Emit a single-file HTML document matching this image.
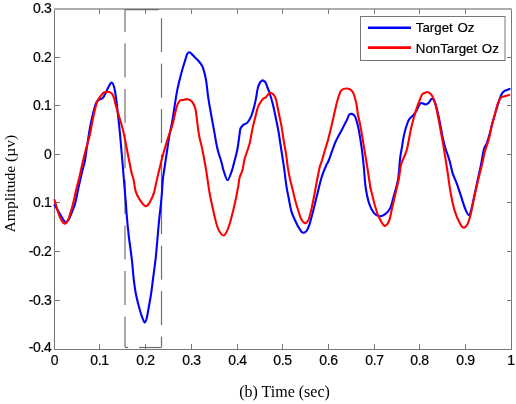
<!DOCTYPE html>
<html><head><meta charset="utf-8"><style>
html,body{margin:0;padding:0;background:#fff;width:516px;height:404px;overflow:hidden}
svg{display:block}
.t{font-family:"Liberation Sans",Arial,sans-serif;font-size:14px;fill:#000;letter-spacing:-0.4px;stroke:#000;stroke-width:0.2px}
.lg{font-size:13.3px;word-spacing:1px;letter-spacing:0}
.s{font-family:"Liberation Serif","Times New Roman",serif;font-size:16px;fill:#000}
</style></head><body>
<svg width="516" height="404" viewBox="0 0 516 404">
<rect width="516" height="404" fill="#fff"/>
<g stroke="#787878" stroke-width="1" fill="none" shape-rendering="crispEdges">
<path d="M54.5,9.5 V349.0 H511.5 V9.5"/>
</g>
<line x1="54.0" y1="9" x2="512.0" y2="9" stroke="#5a5a5a" stroke-width="1"/>
<g stroke="#787878" stroke-width="1" fill="none" shape-rendering="crispEdges">
<line x1="99.5" y1="349.0" x2="99.5" y2="344.0"/><line x1="99.5" y1="9.0" x2="99.5" y2="14.0"/><line x1="145.5" y1="349.0" x2="145.5" y2="344.0"/><line x1="145.5" y1="9.0" x2="145.5" y2="14.0"/><line x1="191.5" y1="349.0" x2="191.5" y2="344.0"/><line x1="191.5" y1="9.0" x2="191.5" y2="14.0"/><line x1="237.5" y1="349.0" x2="237.5" y2="344.0"/><line x1="237.5" y1="9.0" x2="237.5" y2="14.0"/><line x1="282.5" y1="349.0" x2="282.5" y2="344.0"/><line x1="282.5" y1="9.0" x2="282.5" y2="14.0"/><line x1="328.5" y1="349.0" x2="328.5" y2="344.0"/><line x1="328.5" y1="9.0" x2="328.5" y2="14.0"/><line x1="374.5" y1="349.0" x2="374.5" y2="344.0"/><line x1="374.5" y1="9.0" x2="374.5" y2="14.0"/><line x1="419.5" y1="349.0" x2="419.5" y2="344.0"/><line x1="419.5" y1="9.0" x2="419.5" y2="14.0"/><line x1="465.5" y1="349.0" x2="465.5" y2="344.0"/><line x1="465.5" y1="9.0" x2="465.5" y2="14.0"/><line x1="54.5" y1="57.5" x2="59.5" y2="57.5"/><line x1="511.5" y1="57.5" x2="506.5" y2="57.5"/><line x1="54.5" y1="105.5" x2="59.5" y2="105.5"/><line x1="511.5" y1="105.5" x2="506.5" y2="105.5"/><line x1="54.5" y1="154.5" x2="59.5" y2="154.5"/><line x1="511.5" y1="154.5" x2="506.5" y2="154.5"/><line x1="54.5" y1="202.5" x2="59.5" y2="202.5"/><line x1="511.5" y1="202.5" x2="506.5" y2="202.5"/><line x1="54.5" y1="251.5" x2="59.5" y2="251.5"/><line x1="511.5" y1="251.5" x2="506.5" y2="251.5"/><line x1="54.5" y1="300.5" x2="59.5" y2="300.5"/><line x1="511.5" y1="300.5" x2="506.5" y2="300.5"/>
</g>
<g stroke="#6e6e6e" stroke-width="1.2" fill="none">
<line x1="125.0" y1="9.5" x2="125.0" y2="32.0"/><line x1="125.0" y1="9.6" x2="158.8" y2="9.6"/><line x1="125.0" y1="43.5" x2="125.0" y2="77.5"/><line x1="125.0" y1="89.0" x2="125.0" y2="123.0"/><line x1="125.0" y1="134.5" x2="125.0" y2="168.5"/><line x1="125.0" y1="180.0" x2="125.0" y2="214.0"/><line x1="125.0" y1="225.5" x2="125.0" y2="259.5"/><line x1="125.0" y1="271.0" x2="125.0" y2="305.0"/><line x1="125.0" y1="316.5" x2="125.0" y2="347.0"/><line x1="125.0" y1="347.5" x2="128.2" y2="347.5"/><line x1="139.1" y1="347.5" x2="161.5" y2="347.5"/><line x1="161.5" y1="18.1" x2="161.5" y2="52.1"/><line x1="161.5" y1="63.6" x2="161.5" y2="97.6"/><line x1="161.5" y1="109.1" x2="161.5" y2="143.1"/><line x1="161.5" y1="154.6" x2="161.5" y2="188.6"/><line x1="161.5" y1="200.1" x2="161.5" y2="234.1"/><line x1="161.5" y1="245.6" x2="161.5" y2="279.6"/><line x1="161.5" y1="291.1" x2="161.5" y2="325.1"/><line x1="161.5" y1="336.6" x2="161.5" y2="347.0"/>
</g>
<g fill="none" stroke-width="2.1" stroke-linejoin="round" stroke-linecap="round">
<path stroke="#0000ff" d="M54.5,205.0 C55.1,205.9 56.8,208.4 58.0,210.5 C59.2,212.6 60.8,215.6 62.0,217.5 C63.2,219.4 64.3,221.9 65.5,222.2 C66.7,222.4 67.9,220.7 69.0,219.0 C70.1,217.3 71.0,214.5 72.0,212.0 C73.0,209.5 74.0,207.7 75.0,204.0 C76.0,200.3 77.2,193.8 78.0,190.0 C78.8,186.2 79.2,184.3 80.0,181.0 C80.8,177.7 81.7,173.3 82.5,170.0 C83.3,166.7 84.2,164.6 84.9,161.0 C85.6,157.4 85.9,153.8 86.7,148.6 C87.5,143.4 88.7,135.1 89.6,130.0 C90.5,124.9 91.0,122.2 92.0,118.0 C93.0,113.8 94.5,107.5 95.5,104.6 C96.5,101.7 96.7,101.6 97.9,100.5 C99.1,99.4 101.5,99.2 102.7,98.1 C103.9,97.0 104.1,95.9 105.1,94.1 C106.1,92.2 107.4,88.9 108.5,87.0 C109.6,85.1 110.5,82.4 111.5,82.5 C112.5,82.6 113.5,84.7 114.3,87.7 C115.1,90.7 115.8,96.0 116.4,100.5 C117.0,105.0 117.4,109.4 118.0,115.0 C118.6,120.6 119.2,125.7 120.0,134.0 C120.8,142.3 121.8,154.0 122.7,165.0 C123.6,176.0 124.9,191.7 125.6,200.0 C126.3,208.3 126.2,208.8 126.7,215.0 C127.2,221.2 128.0,229.5 128.9,237.0 C129.8,244.5 131.1,253.0 131.9,260.0 C132.7,267.0 133.0,273.2 133.7,279.0 C134.4,284.8 135.0,289.7 136.1,295.0 C137.2,300.3 139.0,307.2 140.1,311.0 C141.2,314.8 141.8,316.1 142.5,318.0 C143.2,319.9 143.8,322.3 144.5,322.5 C145.2,322.7 145.9,320.9 146.5,319.0 C147.1,317.1 147.4,315.0 148.1,311.0 C148.8,307.0 150.1,300.3 150.9,295.0 C151.7,289.7 152.2,285.2 153.0,279.0 C153.8,272.8 154.7,267.4 155.7,258.0 C156.7,248.6 158.0,232.0 158.9,222.3 C159.8,212.6 160.7,207.1 161.3,200.0 C162.0,192.9 162.4,184.7 162.8,180.0 C163.2,175.3 163.3,176.2 163.9,172.0 C164.5,167.8 165.6,160.5 166.5,154.7 C167.4,148.9 168.1,143.1 169.1,137.3 C170.1,131.5 171.2,127.8 172.5,120.0 C173.8,112.2 175.6,98.5 177.2,90.4 C178.8,82.3 180.4,76.8 181.8,71.5 C183.2,66.2 184.7,61.8 185.6,58.9 C186.5,56.0 186.6,55.1 187.2,54.0 C187.8,52.9 188.4,52.4 189.0,52.3 C189.6,52.2 190.3,52.6 191.0,53.2 C191.7,53.8 192.1,54.5 193.4,55.8 C194.7,57.1 197.0,59.1 198.6,61.0 C200.2,62.9 201.6,64.1 202.8,67.3 C204.0,70.5 205.1,75.0 206.0,79.9 C206.9,84.8 207.4,91.8 208.1,96.7 C208.8,101.6 209.5,105.4 210.2,109.3 C210.9,113.2 211.4,116.2 212.1,120.0 C212.8,123.8 213.4,127.2 214.3,131.9 C215.2,136.6 216.1,143.0 217.3,148.2 C218.5,153.4 220.7,159.4 221.7,163.0 C222.7,166.6 222.4,167.1 223.4,170.0 C224.4,172.9 226.2,180.2 227.6,180.2 C229.0,180.2 231.1,172.6 232.1,170.0 C233.1,167.4 232.7,167.9 233.6,164.5 C234.5,161.1 236.3,154.6 237.3,149.7 C238.3,144.8 239.0,138.3 239.5,134.8 C240.0,131.3 239.8,130.2 240.5,128.5 C241.2,126.8 242.6,125.5 243.7,124.6 C244.8,123.7 245.9,124.2 247.1,122.9 C248.3,121.6 249.9,119.2 251.0,116.7 C252.1,114.2 253.0,111.0 253.9,107.8 C254.8,104.6 255.6,100.6 256.2,97.4 C256.8,94.2 257.1,90.8 257.7,88.5 C258.2,86.2 258.9,84.8 259.5,83.5 C260.1,82.2 260.9,81.5 261.5,81.0 C262.1,80.5 262.4,80.2 263.1,80.5 C263.8,80.8 264.8,81.4 265.5,82.5 C266.2,83.6 266.6,85.3 267.3,87.0 C268.0,88.7 268.8,90.7 269.5,92.9 C270.2,95.1 271.1,97.6 271.8,100.3 C272.6,103.0 273.3,106.1 274.0,109.3 C274.7,112.5 275.4,116.0 276.2,119.7 C276.9,123.4 277.8,127.5 278.5,131.5 C279.2,135.6 279.5,138.1 280.4,144.0 C281.3,149.9 282.9,159.9 283.9,166.7 C284.9,173.5 285.4,179.6 286.2,184.6 C286.9,189.6 287.5,192.0 288.4,196.5 C289.3,201.0 290.1,207.1 291.5,211.6 C292.9,216.1 295.5,221.0 296.7,223.7 C297.9,226.3 297.9,226.1 298.7,227.5 C299.5,228.9 300.8,231.1 301.7,232.0 C302.6,232.9 303.0,232.9 303.9,232.7 C304.8,232.4 305.9,232.1 306.9,230.5 C307.9,228.9 308.8,226.5 309.9,223.1 C311.0,219.7 312.4,213.9 313.4,210.0 C314.4,206.1 315.1,203.0 315.9,199.6 C316.7,196.2 317.6,193.0 318.4,189.7 C319.2,186.4 320.1,182.7 320.9,179.8 C321.7,176.9 322.4,174.9 323.3,172.4 C324.2,169.9 325.5,167.1 326.4,165.0 C327.3,162.9 327.5,163.5 328.9,160.0 C330.3,156.5 333.1,147.8 334.7,143.8 C336.3,139.8 337.3,138.3 338.6,135.8 C339.9,133.3 341.2,131.1 342.3,129.0 C343.4,126.9 344.4,124.8 345.3,123.1 C346.2,121.4 346.9,120.0 347.5,118.6 C348.1,117.2 348.3,115.7 349.0,114.9 C349.7,114.1 351.0,113.8 351.9,113.9 C352.8,114.0 353.8,114.7 354.5,115.7 C355.2,116.7 355.7,117.9 356.4,120.1 C357.1,122.3 357.9,125.7 358.6,129.0 C359.3,132.3 359.9,136.4 360.5,140.0 C361.1,143.6 361.4,145.9 362.0,150.4 C362.6,154.9 363.2,160.8 363.8,166.9 C364.4,173.0 364.7,180.9 365.6,187.0 C366.5,193.1 367.7,199.1 369.1,203.4 C370.5,207.7 372.1,210.7 373.8,212.8 C375.6,215.0 377.7,216.1 379.6,216.3 C381.6,216.5 383.7,215.3 385.5,213.9 C387.3,212.5 388.8,211.0 390.2,208.1 C391.6,205.2 392.4,201.0 393.7,196.3 C395.0,191.6 396.9,186.2 398.0,180.0 C399.1,173.8 399.4,164.8 400.0,159.4 C400.6,154.0 401.2,151.5 401.9,147.5 C402.5,143.5 403.2,138.9 403.9,135.6 C404.6,132.3 405.1,130.3 405.9,127.7 C406.7,125.1 407.8,121.8 408.9,119.8 C410.0,117.8 411.6,117.1 412.8,115.8 C414.0,114.5 414.8,113.6 415.8,111.9 C416.8,110.2 417.9,107.4 418.8,105.9 C419.7,104.4 420.0,103.2 421.2,103.0 C422.4,102.8 424.6,104.5 425.9,104.5 C427.1,104.5 427.8,103.6 428.7,102.7 C429.6,101.8 430.6,99.2 431.5,98.9 C432.4,98.6 433.3,99.1 434.2,100.8 C435.1,102.5 436.1,105.6 437.0,109.2 C437.9,112.8 438.9,117.6 439.8,122.2 C440.7,126.8 441.7,132.7 442.6,137.0 C443.5,141.3 444.2,144.3 445.4,148.2 C446.5,152.1 448.3,156.3 449.5,160.5 C450.7,164.7 451.4,169.2 452.6,173.1 C453.8,176.9 455.4,179.8 456.8,183.6 C458.2,187.4 459.6,192.0 461.0,196.2 C462.4,200.4 463.9,205.7 465.2,208.8 C466.5,212.0 467.9,215.1 469.0,215.1 C470.1,215.1 470.6,212.3 471.5,208.8 C472.4,205.3 473.6,199.0 474.7,194.1 C475.8,189.2 476.8,184.3 477.8,179.4 C478.9,174.5 480.0,169.7 481.0,164.7 C482.0,159.7 482.9,152.9 483.9,149.3 C484.9,145.8 485.8,146.0 486.8,143.4 C487.8,140.8 488.8,137.1 489.8,133.5 C490.8,129.9 491.8,125.2 492.8,121.6 C493.8,118.0 494.7,115.0 495.7,111.7 C496.7,108.4 497.7,104.8 498.7,101.8 C499.7,98.8 500.7,95.7 501.7,93.9 C502.7,92.1 503.4,91.7 504.7,90.9 C506.0,90.1 508.8,89.2 509.6,88.9"/>
<path stroke="#ff0000" d="M54.5,200.0 C54.8,200.8 55.4,203.0 56.0,205.0 C56.6,207.0 57.2,209.6 58.0,212.0 C58.8,214.4 59.9,217.6 61.0,219.5 C62.1,221.4 63.4,223.5 64.6,223.6 C65.8,223.7 66.9,222.4 68.0,220.3 C69.1,218.2 70.2,213.7 71.0,211.0 C71.8,208.3 72.1,207.8 73.0,204.0 C73.9,200.2 75.6,192.0 76.6,188.0 C77.5,184.0 77.6,184.5 78.7,180.0 C79.8,175.5 81.8,166.2 83.0,161.0 C84.2,155.8 85.0,152.9 86.1,148.6 C87.2,144.3 88.6,140.1 89.8,135.0 C91.0,129.9 91.8,123.7 93.0,118.2 C94.2,112.7 95.7,106.0 97.0,102.2 C98.3,98.5 99.8,97.3 101.0,95.7 C102.2,94.1 102.9,93.2 104.0,92.5 C105.1,91.8 106.4,91.7 107.5,91.7 C108.6,91.7 109.6,91.8 110.5,92.5 C111.4,93.2 112.1,93.3 113.1,95.7 C114.1,98.1 115.2,103.2 116.3,107.0 C117.4,110.8 118.5,114.4 119.6,118.2 C120.7,122.0 121.8,125.2 123.0,130.0 C124.2,134.8 125.5,142.3 126.5,147.3 C127.5,152.3 128.1,155.7 129.0,160.0 C129.9,164.3 130.9,170.0 131.7,173.3 C132.5,176.6 133.0,177.0 133.7,180.0 C134.3,183.0 134.6,187.8 135.6,191.1 C136.6,194.4 138.2,197.3 139.9,199.8 C141.6,202.3 143.8,205.8 145.5,206.2 C147.2,206.6 148.4,204.6 149.8,202.3 C151.2,200.0 153.1,195.5 154.1,192.4 C155.1,189.3 155.2,187.1 156.0,183.7 C156.8,180.3 157.5,176.8 158.7,172.0 C159.9,167.2 161.4,160.5 163.0,154.7 C164.6,148.9 166.6,142.2 168.2,137.3 C169.8,132.4 171.0,130.0 172.4,125.0 C173.8,120.0 175.4,111.2 176.6,107.2 C177.8,103.2 178.6,102.1 179.7,100.9 C180.8,99.7 181.6,100.2 182.9,99.9 C184.2,99.6 186.1,98.9 187.7,99.2 C189.3,99.5 191.0,100.3 192.3,102.0 C193.6,103.7 194.6,105.5 195.5,109.3 C196.4,113.1 196.9,120.4 197.6,125.0 C198.2,129.6 198.6,132.9 199.4,137.0 C200.2,141.1 201.3,144.2 202.4,149.7 C203.5,155.2 204.9,162.9 206.1,170.0 C207.3,177.1 208.2,185.3 209.5,192.5 C210.8,199.7 212.5,207.2 213.9,213.3 C215.3,219.4 216.5,225.2 218.2,228.9 C219.9,232.6 222.2,235.8 223.9,235.5 C225.6,235.2 226.9,231.8 228.6,227.2 C230.2,222.6 232.2,214.8 233.8,208.1 C235.4,201.4 237.2,192.3 238.1,187.3 C239.0,182.3 238.8,180.8 239.5,177.9 C240.2,175.0 241.6,173.2 242.5,170.0 C243.4,166.8 243.5,162.9 244.7,158.6 C245.9,154.3 248.2,149.0 249.5,144.0 C250.8,139.0 251.5,133.2 252.5,128.6 C253.5,124.0 254.5,120.2 255.4,116.7 C256.3,113.2 256.9,110.0 257.7,107.8 C258.4,105.6 259.0,104.8 259.9,103.3 C260.8,101.8 261.9,99.9 262.9,98.9 C263.9,97.9 264.8,98.3 265.8,97.4 C266.8,96.5 267.9,94.5 268.8,93.7 C269.7,93.0 270.1,92.7 271.0,92.9 C271.9,93.1 273.1,93.9 274.0,95.1 C274.9,96.3 275.6,98.2 276.2,100.3 C276.8,102.4 277.2,105.3 277.7,107.8 C278.2,110.3 278.6,112.2 279.2,115.2 C279.8,118.2 280.7,121.5 281.4,125.6 C282.1,129.7 282.8,135.1 283.6,140.0 C284.4,144.9 285.5,150.5 286.2,154.9 C286.9,159.3 287.1,162.8 287.7,166.7 C288.3,170.6 289.0,174.6 289.9,178.6 C290.8,182.6 292.0,186.9 292.9,190.5 C293.8,194.1 294.2,196.8 295.1,200.0 C296.0,203.2 297.0,206.6 298.0,209.7 C299.0,212.8 299.9,216.4 301.0,218.6 C302.1,220.8 303.5,222.8 304.7,223.1 C305.9,223.3 307.3,222.3 308.4,220.1 C309.5,217.9 310.4,213.4 311.2,210.0 C312.0,206.6 312.7,203.0 313.4,199.6 C314.1,196.2 314.7,193.0 315.3,189.7 C315.9,186.4 316.6,182.5 317.1,179.8 C317.6,177.1 318.0,175.7 318.4,173.6 C318.8,171.5 319.0,169.7 319.6,167.4 C320.2,165.1 321.2,162.9 322.1,160.0 C323.0,157.1 324.0,153.3 325.0,150.0 C326.0,146.7 327.0,143.7 328.0,140.0 C329.0,136.3 330.1,131.8 331.0,128.0 C331.9,124.2 332.7,120.9 333.5,117.2 C334.3,113.5 335.2,109.4 336.0,106.0 C336.8,102.6 337.7,99.5 338.5,97.0 C339.3,94.5 339.9,92.4 340.8,91.1 C341.7,89.8 342.8,89.3 343.8,88.9 C344.8,88.5 345.7,88.5 346.7,88.5 C347.7,88.5 348.7,88.6 349.7,89.2 C350.7,89.8 351.8,90.5 352.7,91.9 C353.6,93.3 354.3,95.8 354.9,97.8 C355.5,99.8 355.9,101.1 356.4,103.8 C356.9,106.5 357.3,110.8 357.9,114.2 C358.5,117.6 359.2,120.0 360.0,124.0 C360.8,128.0 361.8,133.6 362.5,138.0 C363.2,142.4 363.8,146.2 364.5,150.4 C365.2,154.7 365.7,157.4 366.7,163.5 C367.7,169.6 369.7,183.1 370.3,187.0 C370.9,190.9 369.5,183.9 370.3,187.0 C371.1,190.1 373.6,200.8 375.0,205.7 C376.4,210.6 376.9,213.0 378.5,216.3 C380.1,219.6 382.6,224.9 384.3,225.7 C386.1,226.5 387.7,223.9 389.0,221.0 C390.3,218.1 391.0,212.6 392.1,208.1 C393.2,203.6 394.2,199.0 395.4,194.0 C396.5,189.0 398.1,182.8 399.0,178.0 C399.9,173.2 400.1,168.7 400.9,165.3 C401.7,161.9 402.9,160.0 403.9,157.4 C404.9,154.8 406.1,152.5 406.9,149.5 C407.7,146.5 408.2,142.9 408.9,139.6 C409.5,136.3 410.0,133.3 410.8,129.7 C411.6,126.1 412.8,121.4 413.8,117.8 C414.8,114.2 415.8,110.9 416.8,107.9 C417.8,104.9 418.9,102.3 419.8,100.0 C420.7,97.7 421.2,95.6 422.2,94.3 C423.2,93.0 424.8,92.7 425.9,92.4 C427.0,92.1 427.6,91.8 428.7,92.4 C429.8,93.0 431.3,94.3 432.4,96.2 C433.5,98.1 434.3,100.2 435.2,103.6 C436.1,107.0 437.1,111.9 438.0,116.6 C438.9,121.2 439.9,126.5 440.8,131.5 C441.7,136.4 442.4,139.7 443.5,146.3 C444.6,152.9 446.2,163.4 447.4,171.0 C448.6,178.6 449.3,185.3 450.5,192.0 C451.7,198.7 453.1,205.7 454.7,210.9 C456.3,216.2 458.5,220.7 460.0,223.5 C461.5,226.3 462.3,227.5 463.5,227.7 C464.7,227.9 466.1,226.7 467.3,224.6 C468.5,222.5 469.4,219.1 470.5,215.1 C471.6,211.1 472.4,206.0 473.6,200.4 C474.8,194.8 476.4,187.4 477.8,181.5 C479.2,175.6 480.8,169.7 482.0,164.7 C483.2,159.7 483.8,155.5 484.9,151.3 C486.0,147.1 487.6,143.7 488.8,139.4 C490.0,135.1 490.8,129.6 491.8,125.5 C492.8,121.4 493.8,118.3 494.8,114.7 C495.8,111.1 496.7,106.6 497.7,103.8 C498.7,101.0 499.5,99.1 500.7,97.8 C501.9,96.5 503.3,96.7 504.7,96.2 C506.1,95.7 508.4,95.1 509.2,94.9"/>
</g>
<g class="t">
<text x="54.5" y="364.5" text-anchor="middle">0</text><text x="99.5" y="364.5" text-anchor="middle">0.1</text><text x="145.5" y="364.5" text-anchor="middle">0.2</text><text x="191.5" y="364.5" text-anchor="middle">0.3</text><text x="237.5" y="364.5" text-anchor="middle">0.4</text><text x="282.5" y="364.5" text-anchor="middle">0.5</text><text x="328.5" y="364.5" text-anchor="middle">0.6</text><text x="374.5" y="364.5" text-anchor="middle">0.7</text><text x="419.5" y="364.5" text-anchor="middle">0.8</text><text x="465.5" y="364.5" text-anchor="middle">0.9</text><text x="511.0" y="364.5" text-anchor="middle">1</text><text x="51.3" y="12.5" text-anchor="end">0.3</text><text x="51.3" y="61.5" text-anchor="end">0.2</text><text x="51.3" y="109.5" text-anchor="end">0.1</text><text x="51.3" y="158.5" text-anchor="end">0</text><text x="51.3" y="206.5" text-anchor="end">0.1</text><text x="51.3" y="255.5" text-anchor="end">-0.2</text><text x="51.3" y="304.5" text-anchor="end">-0.3</text><text x="51.3" y="352.0" text-anchor="end">-0.4</text>
</g>
<text class="s" x="284.5" y="396.5" text-anchor="middle">(b) Time (sec)</text>
<text class="s" style="font-size:15.6px" x="0" y="0" text-anchor="middle" transform="translate(14.6,183.6) rotate(-90)">Amplitude (µv)</text>
<g>
<rect x="360.5" y="16.5" width="144.5" height="44" fill="#fff" stroke="#787878" stroke-width="1"/>
<line x1="368" y1="27.7" x2="411" y2="27.7" stroke="#0000ff" stroke-width="2.6"/>
<line x1="368" y1="47.6" x2="411" y2="47.6" stroke="#ff0000" stroke-width="2.6"/>
<text class="t lg" x="415.8" y="32.3">Target Oz</text>
<text class="t lg" x="415.8" y="52.5">NonTarget Oz</text>
</g>
</svg>
</body></html>
